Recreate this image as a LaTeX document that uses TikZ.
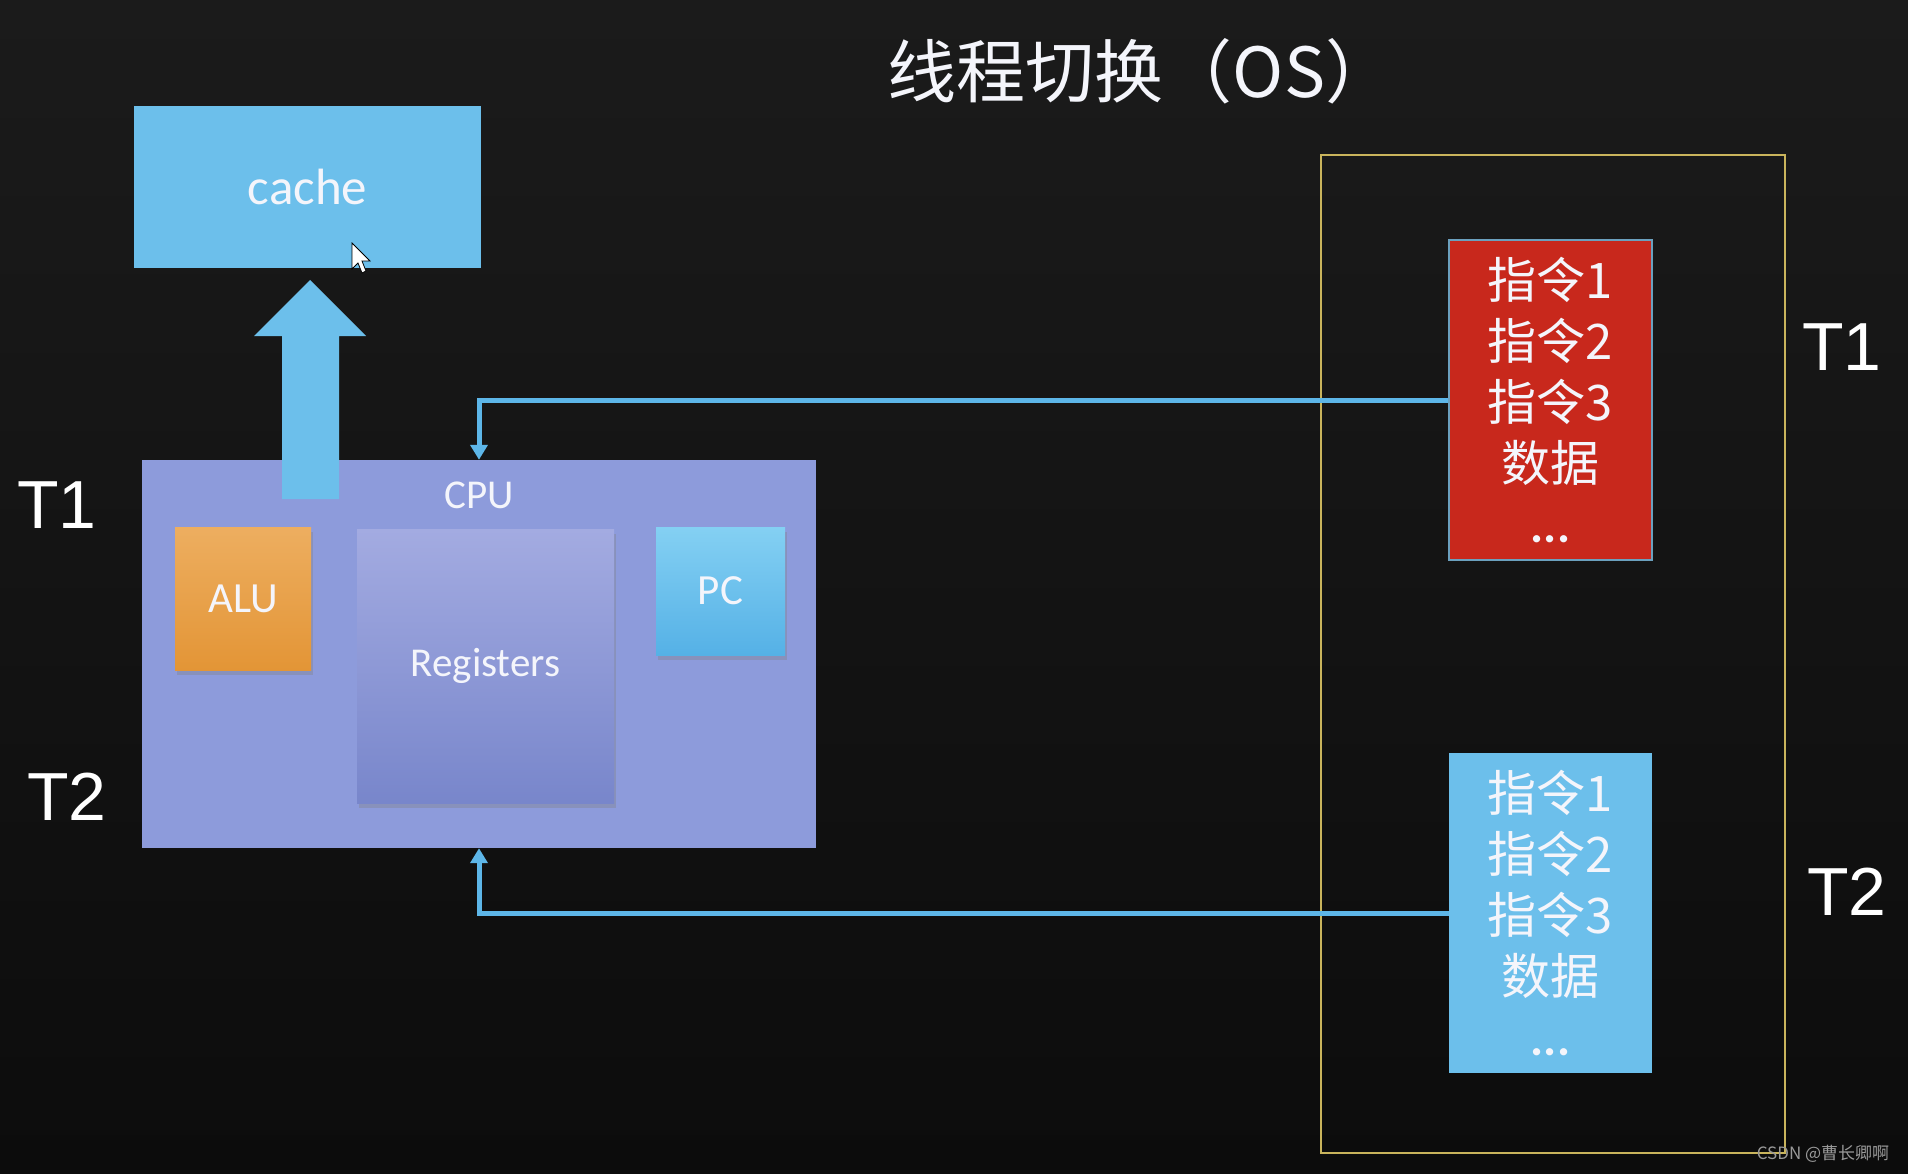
\documentclass[tikz,border=0pt]{standalone}
\usepackage{fontspec}
\setmainfont{Carlito}
\newfontfamily\cjk{Noto Sans CJK SC}
\newfontfamily\tfont{Liberation Sans}
\usetikzlibrary{shadows,arrows.meta}
\definecolor{bg}{HTML}{0C0C0C}
\definecolor{bgtop}{HTML}{1B1B1B}
\definecolor{skyblue}{HTML}{6CBFEB}
\definecolor{cpublue}{HTML}{8D9BDB}
\definecolor{regtop}{HTML}{A3ABE1}
\definecolor{regbot}{HTML}{7886CB}
\definecolor{alutop}{HTML}{EDAE60}
\definecolor{alubot}{HTML}{E39536}
\definecolor{pctop}{HTML}{84D0F3}
\definecolor{pcbot}{HTML}{55B1E6}
\definecolor{redbox}{HTML}{C8281C}
\definecolor{frameyellow}{HTML}{C9B45C}
\definecolor{connblue}{HTML}{5DB6E8}
\definecolor{txt}{HTML}{F4F5FB}
\tikzset{
  box/.style={rectangle, inner sep=0pt, text=txt, align=center},
  inner/.style={box, drop shadow={shadow xshift=2pt, shadow yshift=-5pt, opacity=0.35}},
  conn/.style={draw=connblue, line width=5pt, -{Triangle[width=17pt,length=15pt]}},
  tlabel/.style={text=white, font=\tfont\fontsize{68}{68}\selectfont},
  memtext/.style={font=\cjk\fontsize{49}{61}\selectfont},
}
\begin{document}
\begin{tikzpicture}[x=1pt,y=-1pt]
\shade[top color=bgtop, bottom color=bg] (0,0) rectangle (1908,1174);
\useasboundingbox (0,0) rectangle (1908,1174);

% title
\node[text=txt] (title) at (1141,71) {\cjk\fontsize{69}{69}\selectfont 线程切换（OS）};

% cache
\node[box, fill=skyblue, minimum width=347pt, minimum height=162pt,
      font=\fontsize{51}{51}\selectfont] (cache) at (307.5,187) {cache};
% mouse cursor
\filldraw[fill=white, draw=black, line width=0.8pt]
  (352,243) -- (352,269) -- (358,263) -- (362,273) -- (366,271) -- (362,261) -- (370,261) -- cycle;

% CPU
\node[box, fill=cpublue, minimum width=674pt, minimum height=388pt] (cpu) at (479,654) {};
\node[text=txt, font=\fontsize{41}{41}\selectfont] (cpulabel) at (479,495) {CPU};

% big arrow from CPU to cache
\fill[skyblue] (282,499) -- (282,336) -- (254,336) -- (310,280) -- (366,336) -- (339,336) -- (339,499) -- cycle;

% ALU, Registers, PC
\node[inner, top color=alutop, bottom color=alubot, minimum width=136pt, minimum height=143pt,
      font=\fontsize{43}{43}\selectfont] (alu) at (243,598.5) {ALU};
\node[inner, top color=regtop, bottom color=regbot, minimum width=257pt, minimum height=274pt,
      font=\fontsize{41}{41}\selectfont] (reg) at (485.5,666) {Registers};
\node[inner, top color=pctop, bottom color=pcbot, minimum width=129pt, minimum height=128pt,
      font=\fontsize{43}{43}\selectfont] (pc) at (720.5,591) {PC};

% left labels
\node[tlabel] (t1l) at (57,505) {T1};
\node[tlabel] (t2l) at (67,797) {T2};

% memory frame
\draw[frameyellow, line width=2pt] (1321,155) rectangle (1785,1153);

% thread memory boxes
\node[box, fill=redbox, draw=connblue!60!gray, line width=1.2pt, minimum width=203pt, minimum height=320pt,
      memtext] (mem1) at (1550.5,400)
  {指令1\\指令2\\指令3\\数据\\{\rmfamily\bfseries ...}};
\node[box, fill=skyblue, minimum width=203pt, minimum height=320pt,
      memtext] (mem2) at (1550.5,913)
  {指令1\\指令2\\指令3\\数据\\{\rmfamily\bfseries ...}};

% right labels
\node[tlabel] (t1r) at (1842,347) {T1};
\node[tlabel] (t2r) at (1847,892) {T2};

% connectors
\draw[conn] (mem1.west) -| (cpu.north);
\draw[conn] (mem2.west) -| (cpu.south);

% watermark
\node[text=gray!80, font=\cjk\fontsize{17}{17}\selectfont] (wm) at (1823,1154) {CSDN @曹长卿啊};
\end{tikzpicture}
\end{document}
